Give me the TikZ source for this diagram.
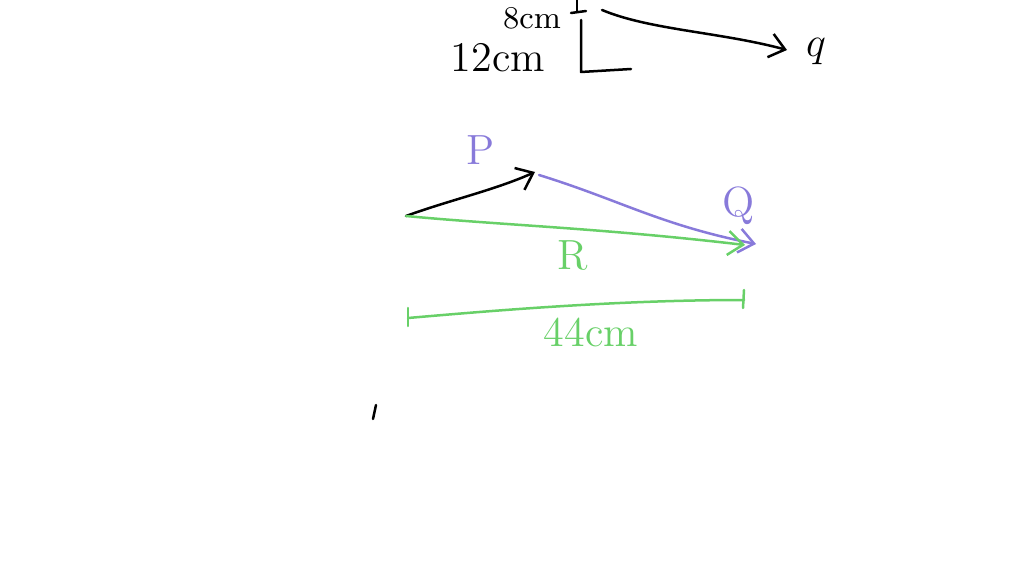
\documentclass[tikz,border=0pt]{standalone}
\usepackage{tikz}
\usetikzlibrary{calc,arrows.meta}
\definecolor{penblue}{RGB}{136,122,218}
\definecolor{pengreen}{RGB}{104,208,104}
\tikzset{
	pen/.style={line width=0.25mm, line cap=round, line join=round},
	tip/.style={-{Straight Barb[length=1.5mm, width=2.4mm, line width=0.25mm]}},
	hand/.style={font=\large}
}

\begin{document}
\begin{tikzpicture}[x=0.01cm, y=-0.01cm]
			%%%%% START %%%%%
			\useasboundingbox (0, 0) rectangle (1024, 576);
			\clip (0, 0) rectangle (1024, 576);
			
			% top sketch
			\coordinate (tt) at (577, -4);
			\coordinate (tb) at (577, 12);
			\coordinate (tbl) at (571, 13);
			\coordinate (tbr) at (586, 11);
			\coordinate (vt) at (581, 20);
			\coordinate (vb) at (581, 72);
			\coordinate (hr) at (631, 69);
			\coordinate (ca) at (602, 10);
			\coordinate (cb) at (787, 50);
			\draw[pen] (tt) -- (tb);
			\draw[pen] (tbl) -- (tbr);
			\draw[pen] (vt) -- (vb) -- (hr);
			\draw[pen, tip] (ca) .. controls (650, 30) and (720, 32) .. (cb);
			\node[hand] (lq) at (816, 52) {$q$};
			\node[hand] (l12) at (498, 58) {12cm};
			\node[font=\small, inner sep=1pt, anchor=north] (l8) at (532, 3) {8cm};
			
			% triangle of vectors
			\coordinate (o) at (406, 216);
			\coordinate (p) at (535, 172);
			\coordinate (ps) at (539, 175);
			\coordinate (q) at (756, 244);
			\coordinate (r) at (745, 245);
			\draw[pen, tip] (o) .. controls (450, 200) and (495, 190) .. (p);
			\draw[pen, penblue, tip] (ps) .. controls (620, 200) and (660, 225) .. (q);
			\draw[pen, pengreen, tip] (o) .. controls (500, 225) and (600, 228) .. (r);
			\node[hand, penblue] (lp) at (481, 150) {P};
			\node[hand, penblue] (lqq) at (739, 206) {Q};
			\node[hand, pengreen] (lr) at (573, 256) {R};
			
			% length of R
			\coordinate (da) at (408, 318);
			\coordinate (db) at (744, 300);
			\draw[pen, pengreen] (da) .. controls (500, 310) and (620, 300) .. (db);
			\draw[pen, pengreen] ($(da)+(0,-10)$) -- ($(da)+(0,8)$);
			\draw[pen, pengreen] ($(db)+(0,-10)$) -- ($(db)+(-1,8)$);
			\node[hand, pengreen] (l44) at (591, 332) {44cm};
			
			% stray mark
			\coordinate (ma) at (376, 405);
			\coordinate (mb) at (373, 419);
			\draw[pen] (ma) -- (mb);
			
			%%%%% END %%%%%
		\end{tikzpicture}
\end{document}
